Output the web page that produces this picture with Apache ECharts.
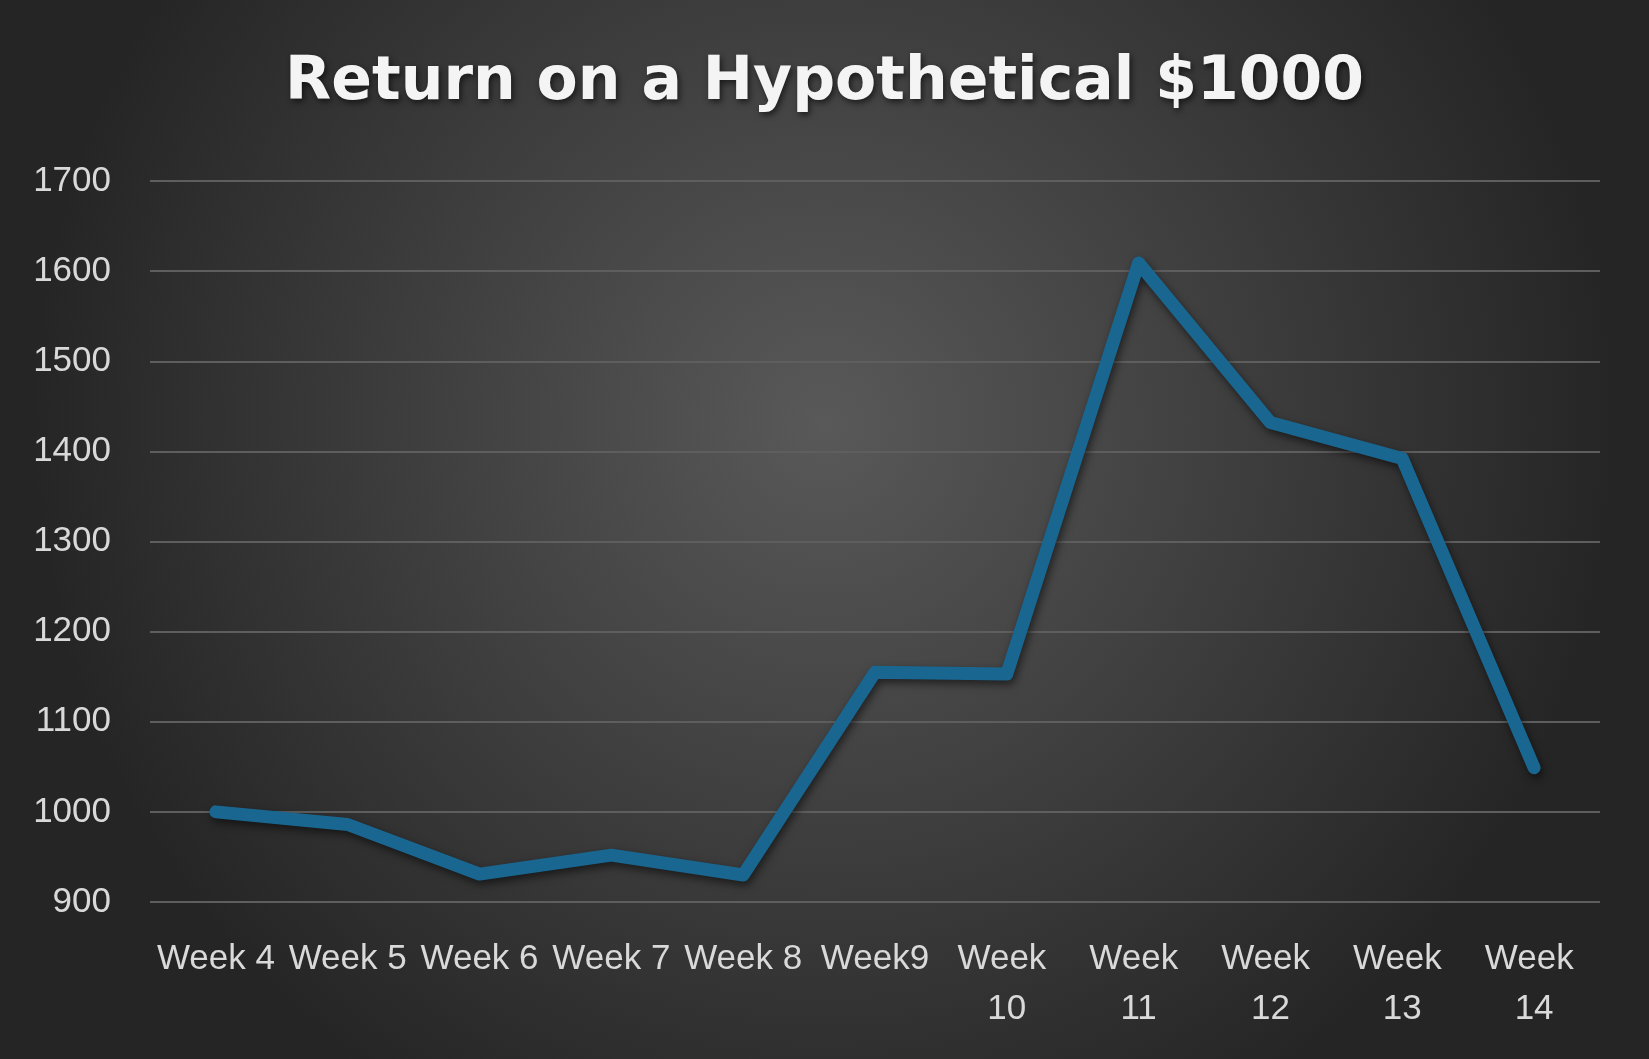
<!DOCTYPE html>
<html>
<head>
<meta charset="utf-8">
<script src="https://cdn.jsdelivr.net/npm/echarts@6/dist/echarts.min.js"></script>
<style>
  html, body { margin: 0; padding: 0; }
  #chart { width: 1649px; height: 1059px; }
</style>
</head>
<body>
<div id="chart"></div>
<script>
var weeks = ['Week 4', 'Week 5', 'Week 6', 'Week 7', 'Week 8', 'Week9',
  'Week 10', 'Week 11', 'Week 12', 'Week 13', 'Week 14']
var returns = [1000, 986, 931, 952, 930, 1155, 1153, 1609, 1432, 1392, 1049]
var yTicks = [900, 1700, 100] // min, max, step

var chart = echarts.init(document.getElementById('chart'))

chart.setOption({
  backgroundColor: {
    type: 'radial', x: 0.5, y: 0.4, r: 0.75,
    colorStops: [
      { offset: 0, color: '#595959' },
      { offset: 1, color: '#252525' }
    ]
  },
  title: {
    text: 'Return on a Hypothetical $1000',
    left: 'center',
    top: 48,
    textStyle: {
      fontFamily: 'DejaVu Sans',
      fontWeight: 'bold',
      fontSize: 60,
      color: '#f4f4f4',
      textShadowColor: 'rgba(0,0,0,0.6)',
      textShadowBlur: 6,
      textShadowOffsetX: 2,
      textShadowOffsetY: 3
    }
  },
  grid: { left: 150, right: 49, top: 181, bottom: 157 },
  xAxis: {
    type: 'category',
    data: weeks,
    boundaryGap: true,
    axisLine: { show: false },
    axisTick: { show: false },
    axisLabel: {
      margin: 32,
      interval: 0,
      width: 128,
      overflow: 'break',
      fontFamily: 'Liberation Sans',
      fontSize: 35,
      lineHeight: 50,
      color: '#d9d9d9'
    }
  },
  yAxis: {
    type: 'value',
    min: yTicks[0],
    max: yTicks[1],
    interval: yTicks[2],
    axisLine: { show: false },
    axisTick: { show: false },
    splitLine: { lineStyle: { color: '#5e5e5e', width: 2 } },
    axisLabel: {
      margin: 39,
      fontFamily: 'Liberation Sans',
      fontSize: 35,
      color: '#d9d9d9',
      formatter: function (v) { return String(v) }
    }
  },
  series: [{
    type: 'line',
    data: returns,
    symbol: 'none',
    lineStyle: {
      color: '#196690',
      width: 13,
      cap: 'round',
      join: 'round',
      shadowColor: 'rgba(0,0,0,0.55)',
      shadowBlur: 8,
      shadowOffsetX: 2,
      shadowOffsetY: 4
    },
    animation: false
  }]
})
</script>
</body>
</html>
